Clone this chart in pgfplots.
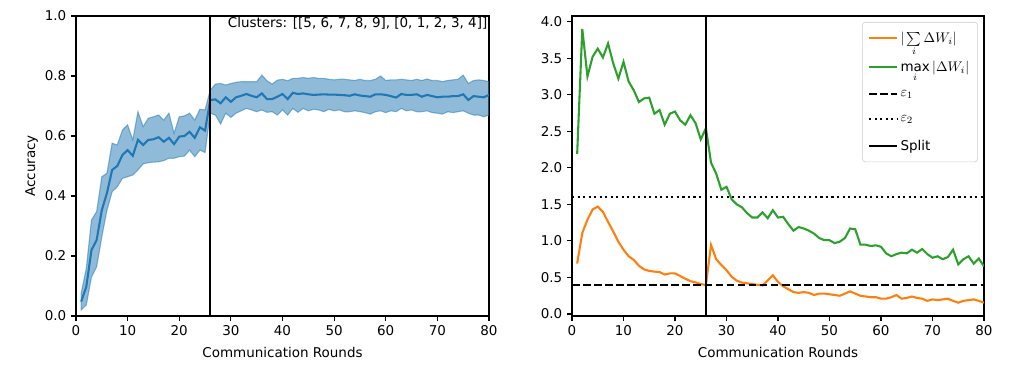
\documentclass[border=0pt]{standalone}
\usepackage{fontspec}
\setmainfont{DejaVu Sans}
\usepackage{pgfplots}
\usepackage{pgfplotstable}
\pgfplotsset{compat=1.18}
\definecolor{tabblue}{HTML}{1F77B4}
\definecolor{taborange}{HTML}{FF7F0E}
\definecolor{tabgreen}{HTML}{2CA02C}

\pgfplotstableread{
r mean
1 0.048
2 0.098
3 0.220
4 0.253
5 0.353
6 0.410
7 0.487
8 0.500
9 0.537
10 0.553
11 0.534
12 0.587
13 0.570
14 0.587
15 0.589
16 0.596
17 0.581
18 0.594
19 0.573
20 0.598
21 0.600
22 0.614
23 0.594
24 0.629
25 0.618
26 0.720
27 0.722
28 0.709
29 0.729
30 0.714
31 0.729
32 0.734
33 0.740
34 0.734
35 0.729
36 0.742
37 0.723
38 0.723
39 0.731
40 0.740
41 0.723
42 0.744
43 0.740
44 0.742
45 0.739
46 0.737
47 0.738
48 0.739
49 0.738
50 0.738
51 0.737
52 0.736
53 0.734
54 0.739
55 0.735
56 0.733
57 0.731
58 0.739
59 0.739
60 0.737
61 0.733
62 0.728
63 0.740
64 0.737
65 0.737
66 0.739
67 0.731
68 0.737
69 0.733
70 0.729
71 0.731
72 0.731
73 0.733
74 0.733
75 0.739
76 0.720
77 0.733
78 0.731
79 0.729
80 0.737
}\accmean

% band polygon: upper bound rounds 1..80, then lower bound rounds 80..1
\pgfplotstableread{
r v
1 0.076
2 0.159
3 0.320
4 0.348
5 0.464
6 0.476
7 0.576
8 0.570
9 0.620
10 0.637
11 0.587
12 0.681
13 0.631
14 0.659
15 0.664
16 0.670
17 0.653
18 0.676
19 0.609
20 0.664
21 0.667
22 0.676
23 0.653
24 0.689
25 0.687
26 0.752
27 0.773
28 0.775
29 0.770
30 0.775
31 0.779
32 0.781
33 0.781
34 0.781
35 0.781
36 0.803
37 0.784
38 0.773
39 0.786
40 0.789
41 0.784
42 0.792
43 0.792
44 0.795
45 0.792
46 0.795
47 0.792
48 0.792
49 0.789
50 0.787
51 0.789
52 0.789
53 0.787
54 0.785
55 0.789
56 0.785
57 0.785
58 0.789
59 0.800
60 0.785
61 0.787
62 0.787
63 0.789
64 0.787
65 0.785
66 0.789
67 0.785
68 0.790
69 0.785
70 0.785
71 0.781
72 0.785
73 0.787
74 0.789
75 0.803
76 0.775
77 0.785
78 0.787
79 0.785
80 0.781
80 0.670
79 0.664
78 0.670
77 0.670
76 0.676
75 0.684
74 0.681
73 0.678
72 0.681
71 0.673
70 0.676
69 0.678
68 0.684
67 0.681
66 0.681
65 0.687
64 0.684
63 0.692
62 0.681
61 0.684
60 0.678
59 0.684
58 0.681
57 0.673
56 0.678
55 0.681
54 0.684
53 0.681
52 0.681
51 0.687
50 0.684
49 0.689
48 0.681
47 0.687
46 0.689
45 0.684
44 0.692
43 0.679
42 0.692
41 0.670
40 0.687
39 0.670
38 0.681
37 0.679
36 0.687
35 0.681
34 0.687
33 0.692
32 0.684
31 0.676
30 0.662
29 0.676
28 0.640
27 0.670
26 0.676
25 0.545
24 0.553
23 0.531
22 0.553
21 0.533
20 0.531
19 0.526
18 0.526
17 0.518
16 0.514
15 0.513
14 0.511
13 0.507
12 0.487
11 0.470
10 0.464
9 0.459
8 0.431
7 0.414
6 0.353
5 0.264
4 0.164
3 0.130
2 0.037
1 0.020
}\accband

\pgfplotstableread{
r sum max
1 0.69 2.19
2 1.11 3.90
3 1.29 3.25
4 1.43 3.52
5 1.47 3.63
6 1.40 3.51
7 1.26 3.70
8 1.13 3.43
9 0.99 3.22
10 0.88 3.45
11 0.79 3.18
12 0.74 3.06
13 0.66 2.90
14 0.61 2.95
15 0.59 2.96
16 0.58 2.74
17 0.575 2.79
18 0.54 2.59
19 0.556 2.74
20 0.556 2.77
21 0.52 2.65
22 0.483 2.59
23 0.45 2.72
24 0.433 2.61
25 0.41 2.39
26 0.397 2.54
27 0.944 2.07
28 0.75 1.92
29 0.67 1.70
30 0.60 1.74
31 0.51 1.57
32 0.456 1.50
33 0.43 1.46
34 0.42 1.38
35 0.41 1.32
36 0.40 1.32
37 0.39 1.39
38 0.46 1.31
39 0.53 1.42
40 0.44 1.32
41 0.38 1.33
42 0.34 1.23
43 0.30 1.14
44 0.29 1.19
45 0.30 1.17
46 0.29 1.14
47 0.26 1.10
48 0.28 1.04
49 0.28 1.01
50 0.27 1.01
51 0.26 0.97
52 0.25 0.99
53 0.28 1.04
54 0.31 1.17
55 0.28 1.16
56 0.25 0.95
57 0.24 0.95
58 0.23 0.93
59 0.23 0.94
60 0.21 0.92
61 0.21 0.83
62 0.23 0.79
63 0.26 0.82
64 0.21 0.84
65 0.22 0.83
66 0.24 0.88
67 0.22 0.84
68 0.21 0.89
69 0.18 0.82
70 0.20 0.77
71 0.19 0.79
72 0.20 0.75
73 0.21 0.78
74 0.18 0.88
75 0.155 0.68
76 0.18 0.75
77 0.19 0.79
78 0.20 0.69
79 0.18 0.76
80 0.155 0.65
}\dw

\newcommand\mplfont{\fontsize{9.7}{11.6}\selectfont}
\pgfplotsset{
  mpl/.style={
    scale only axis,
    anchor=south west,
    axis line style={black, line width=0.8pt},
    tick style={black, line width=0.8pt},
    major tick length=3.5pt,
    tick align=outside,
    xtick pos=lower, ytick pos=left,
    tick label style={font=\mplfont},
    label style={font=\mplfont},
    /pgf/number format/assume math mode=true,
    xmin=0, xmax=80,
    xtick={0,10,...,80},
    xlabel={Communication Rounds},
    xlabel style={yshift=-1pt},
    yticklabel style={/pgf/number format/.cd, fixed, fixed zerofill, precision=1},
    legend image code/.code={\draw[#1] (0cm,0cm) -- (0.7cm,0cm);},
  }
}

\begin{document}
\begin{tikzpicture}
\path[use as bounding box] (0,0) rectangle (728.64pt,268.56pt);
\begin{axis}[mpl, at={(54.72pt,41.04pt)}, width=297.36pt, height=216pt,
  ymin=0, ymax=1, ytick={0,0.2,...,1.0},
  ylabel={Accuracy}, ylabel style={yshift=-2pt}]
  \addplot[fill=tabblue, fill opacity=0.5, draw=tabblue, draw opacity=0.5, line width=0.8pt] table[x=r, y=v]{\accband} -- cycle;
  \addplot[tabblue, line width=1.5pt] table[x=r, y=mean]{\accmean};
  \addplot[black, line width=1.5pt] coordinates {(26,0) (26,1)};
  \node[anchor=north east, inner sep=1pt, font=\mplfont] at (rel axis cs:1,1) {Clusters: [[5, 6, 7, 8, 9], [0, 1, 2, 3, 4]]};
\end{axis}
\begin{axis}[mpl, at={(411.84pt,41.04pt)}, width=296.64pt, height=216pt,
  ymin=-0.027, ymax=4.077, ytick={0,0.5,...,4.0},
  legend style={at={(axis description cs:0.985,0.98)}, anchor=north east,
    draw=black!20, rounded corners=2pt, fill=white, fill opacity=0.8, text opacity=1,
    font=\mplfont, row sep=8pt, inner xsep=4pt, inner ysep=5pt},
  legend cell align=left]
  \addplot[taborange, line width=1.5pt] table[x=r, y=sum]{\dw};
  \addlegendentry{$|\sum\limits_i \Delta W_i|$}
  \addplot[tabgreen, line width=1.5pt] table[x=r, y=max]{\dw};
  \addlegendentry{$\max\limits_i |\Delta W_i|$}
  \addplot[black, line width=1.5pt, dash pattern=on 5.55pt off 2.4pt] coordinates {(0,0.4) (80,0.4)};
  \addlegendentry{$\varepsilon_1$}
  \addplot[black, line width=1.5pt, dash pattern=on 1.5pt off 2.475pt] coordinates {(0,1.6) (80,1.6)};
  \addlegendentry{$\varepsilon_2$}
  \addplot[black, line width=1.5pt] coordinates {(26,-0.027) (26,4.077)};
  \addlegendentry{Split}
\end{axis}
\end{tikzpicture}
\end{document}
